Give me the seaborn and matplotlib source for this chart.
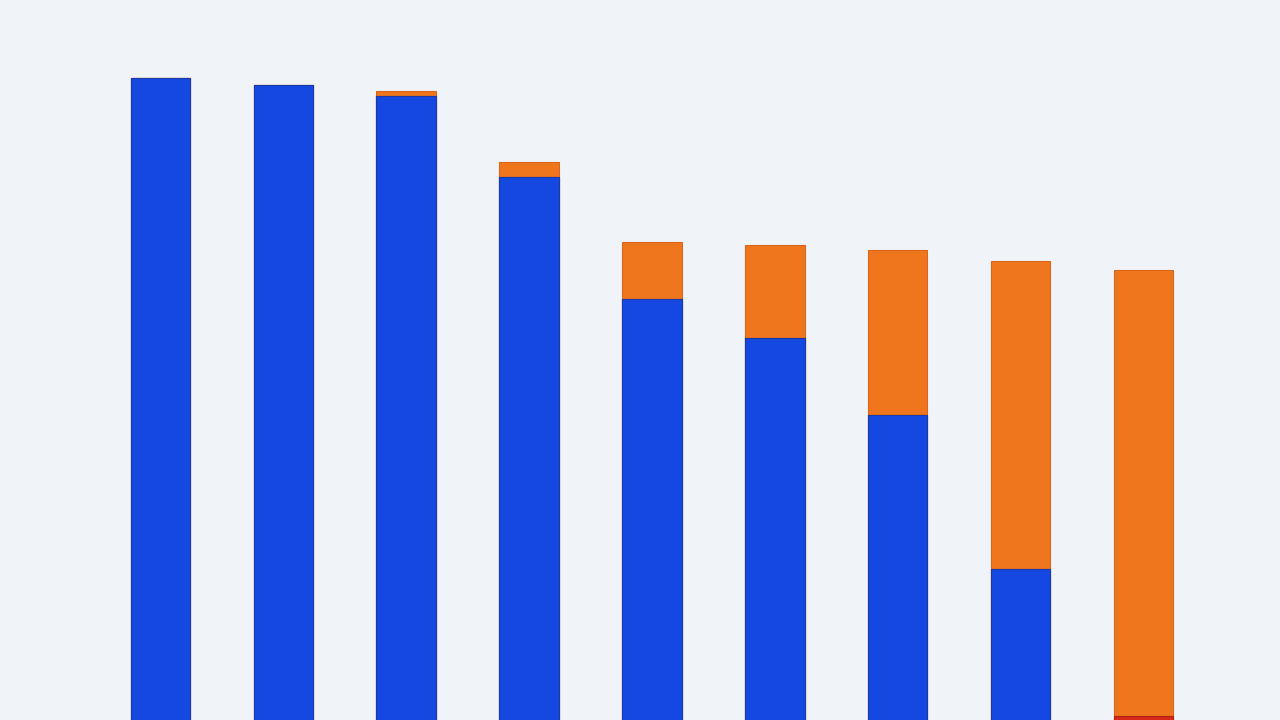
import pandas as pd
import matplotlib
matplotlib.use("Agg")
import matplotlib.pyplot as plt
import seaborn as sns

# values (baseline sits just below the visible area)
categories = ["1", "2", "3", "4", "5", "6", "7", "8", "9"]
blue_vals = [100.0, 98.9, 97.3, 85.0, 66.6, 60.7, 49.1, 25.8, 0.0]
red_vals = [0.0, 0.0, 0.0, 0.0, 0.0, 0.0, 0.0, 0.0, 3.6]
orange_vals = [0.0, 0.0, 0.75, 2.3, 8.6, 14.0, 24.9, 46.5, 67.4]

BG = "#f0f4f9"
BLUE = "#1448e0"
RED = "#d8281a"
ORANGE = "#f0761e"


def main():
    sns.set_theme(style="white")

    df = pd.DataFrame({
        "cat": categories,
        "blue": blue_vals,
        "red": red_vals,
        "orange": orange_vals,
    })
    df["lvl_blue"] = df["blue"]
    df["lvl_red"] = df["blue"] + df["red"]
    df["lvl_total"] = df["lvl_red"] + df["orange"]

    fig = plt.figure(figsize=(12.8, 7.2), dpi=100)
    fig.patch.set_facecolor(BG)
    ax = fig.add_axes([0, 0, 1, 1])
    ax.set_facecolor(BG)

    # stacked look: draw the cumulative levels from tallest to shortest
    layers = [
        ("lvl_total", ORANGE, "#d9661a"),
        ("lvl_red", RED, "#b02010"),
        ("lvl_blue", BLUE, "#1a3aa8"),
    ]
    for col, face, edge in layers:
        sns.barplot(data=df, x="cat", y=col, color=face, width=0.484,
                    edgecolor=edge, linewidth=0.8, saturation=1,
                    order=categories, ax=ax)

    ax.set_xlim(-1.306, 9.111)
    ax.set_ylim(3.02, 111.78)
    ax.axis("off")

    fig.savefig("out.png", dpi=100, facecolor=BG)


if __name__ == "__main__":
    main()
